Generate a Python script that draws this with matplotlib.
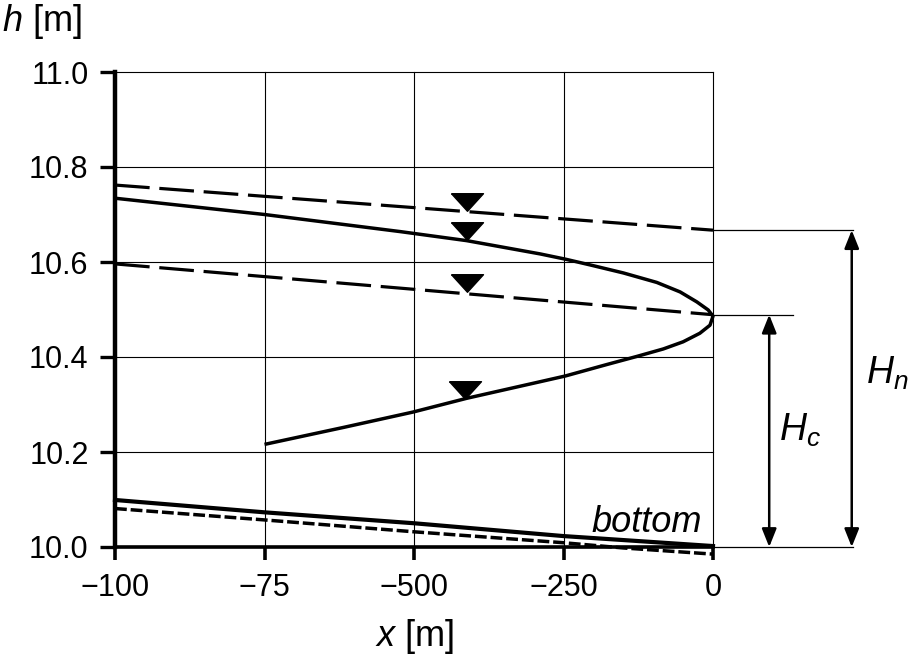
import matplotlib
matplotlib.use("Agg")
import matplotlib.pyplot as plt

plt.rcParams['font.family'] = ['Liberation Sans', 'DejaVu Sans']
plt.rcParams['mathtext.fontset'] = 'custom'
plt.rcParams['mathtext.rm'] = 'Liberation Sans'
plt.rcParams['mathtext.it'] = 'Liberation Sans:italic'
plt.rcParams['lines.scale_dashes'] = False

# ---- data (x in m, h in m) ----
x_ticks = [-1000, -750, -500, -250, 0]
x_ticklabels = ["\u2212100", "\u221275", "\u2212500", "\u2212250", "0"]
y_ticks = [10.0, 10.2, 10.4, 10.6, 10.8, 11.0]
y_ticklabels = ["10.0", "10.2", "10.4", "10.6", "10.8", "11.0"]

normal_x = [-1000, 0]
normal_h = [10.762, 10.667]

critical_x = [-1000, 0]
critical_h = [10.596, 10.489]

profile_x = [-998, -750, -523, -412, -289, -247, -206, -150, -94, -55, -27, -8, 0,
             -5, -22, -50, -83, -128, -178, -247, -289, -412, -502, -617, -750]
profile_h = [10.734, 10.700, 10.664, 10.645, 10.617, 10.606, 10.594, 10.577, 10.557,
             10.537, 10.516, 10.499, 10.486, 10.467, 10.450, 10.432, 10.417, 10.401,
             10.384, 10.360, 10.348, 10.313, 10.284, 10.252, 10.216]

bottom_x = [-1000, -750, -500, -250, 0]
bottom_h = [10.099, 10.073, 10.050, 10.023, 10.002]

bottom2_x = [-1000, -750, -500, -250, -150, 0]
bottom2_h = [10.081, 10.057, 10.032, 10.009, 9.998, 9.985]

marker_x = [-412, -412, -412, -415]
marker_h = [10.727, 10.665, 10.556, 10.330]

fig = plt.figure(figsize=(9.09, 6.60), dpi=100)
ax = fig.add_axes([115/909, 1-547/660, (713-115)/909, (547-72)/660])
ax.set_xlim(-1000, 0)
ax.set_ylim(10.0, 11.0)

ax.set_xticks(x_ticks)
ax.set_xticklabels(x_ticklabels, fontsize=22)
ax.set_yticks(y_ticks)
ax.set_yticklabels(y_ticklabels, fontsize=22)
ax.grid(True, color='black', linewidth=0.8)
ax.set_axisbelow(True)
for gl in ax.get_xgridlines() + ax.get_ygridlines():
    gl.set_clip_on(False)

for s in ['top', 'right']:
    ax.spines[s].set_visible(False)
ax.spines['left'].set_linewidth(3.2)
ax.spines['bottom'].set_linewidth(2.6)
ax.tick_params(axis='y', direction='out', length=11, width=2.4, pad=8)
ax.tick_params(axis='x', direction='out', length=9, width=2.6, pad=10)

dash_long = (0, (25, 7))
ax.plot(normal_x, normal_h, color='black', lw=2.3, linestyle=dash_long, clip_on=False)
ax.plot(critical_x, critical_h, color='black', lw=2.3, linestyle=dash_long, clip_on=False)
ax.plot(profile_x, profile_h, color='black', lw=2.5, solid_capstyle='butt',
        solid_joinstyle='round', clip_on=False)
ax.plot(bottom_x, bottom_h, color='black', lw=3.0, clip_on=False)
ax.plot(bottom2_x, bottom2_h, color='black', lw=2.5, linestyle=(0, (8.5, 2.8)), clip_on=False)

tri = [(-1, 0.55), (1, 0.55), (0, -0.55), (-1, 0.55)]
ax.plot(marker_x, marker_h, linestyle='none', marker=tri, markersize=23,
        color='black', clip_on=False)

ax.text(-18, 10.032, "bottom", fontsize=26, style='italic', ha='right', va='baseline')

# dimension lines on the right
x_end_n = 234
x_end_c = 134
x_arr_c = 94
x_arr_n = 232
lkw = dict(color='black', lw=0.9, clip_on=False)
ax.plot([0, x_end_n], [normal_h[-1], normal_h[-1]], **lkw)
ax.plot([0, x_end_c], [critical_h[-1], critical_h[-1]], **lkw)
ax.plot([0, x_end_n], [10.0, 10.0], **lkw)

akw = dict(arrowstyle='<|-|>,head_length=0.55,head_width=0.22', color='black',
           lw=1.8, shrinkA=0, shrinkB=0, mutation_scale=20)
ax.annotate('', xy=(x_arr_c, 10.0), xytext=(x_arr_c, critical_h[-1]),
            arrowprops=akw, annotation_clip=False)
ax.annotate('', xy=(x_arr_n, 10.0), xytext=(x_arr_n, normal_h[-1]),
            arrowprops=akw, annotation_clip=False)

ax.text(111, 10.245, r'$H_c$', fontsize=27, ha='left', va='center')
ax.text(256, 10.365, r'$H_n$', fontsize=27, ha='left', va='center')

fig.text(2/909, 1-2/660, r'$h$ [m]', fontsize=26, ha='left', va='top')
fig.text(415/909, 1-637/660, r'$x$ [m]', fontsize=26, ha='center', va='center')

fig.savefig("out.png", dpi=100)
